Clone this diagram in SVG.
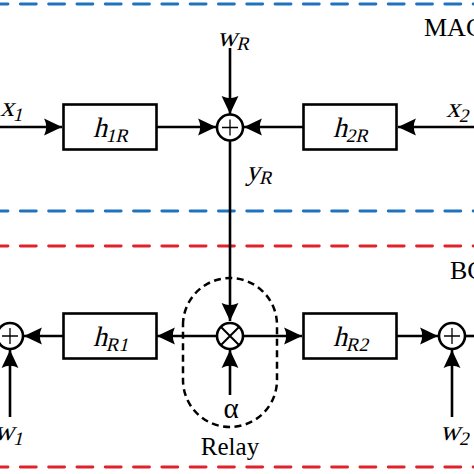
<svg xmlns="http://www.w3.org/2000/svg" width="474" height="474" viewBox="0 0 474 474">
<style>
.ln{stroke:#000;stroke-width:2.6;fill:none}
.box{stroke:#000;stroke-width:2.6;fill:#fff}
.circ{stroke:#000;stroke-width:2.6;fill:#fff}
.sym{stroke:#000;stroke-width:1.3;fill:none}
.blue{stroke:#1f72bd;stroke-width:2.8;stroke-dasharray:16 12.3;stroke-linecap:round;fill:none}
.red{stroke:#e0222a;stroke-width:2.8;stroke-dasharray:16 12.3;stroke-linecap:round;fill:none}
.relay{stroke:#000;stroke-width:2.5;stroke-dasharray:7 4.5;fill:none}
.m{font-family:"Liberation Serif",serif;font-size:28px;fill:#000}
.s{font-size:19px}
.t{font-family:"Liberation Serif",serif;font-size:25px;fill:#000}
</style>
<defs>
<marker id="arr" markerUnits="userSpaceOnUse" markerWidth="20" markerHeight="20" viewBox="-18 -9 19 18" refX="0" refY="0" orient="auto">
<path d="M0,0 L-17,-8 Q-13,0 -17,8 Z" fill="#000"/>
</marker>
</defs>
<g id="boundaries">
<line class="blue" x1="-14" y1="4" x2="480" y2="4" stroke-dashoffset="-6"/>
<line class="blue" x1="-14" y1="211" x2="480" y2="211" stroke-dashoffset="-6"/>
<line class="red" x1="-14" y1="246" x2="480" y2="246" stroke-dashoffset="-6"/>
<line class="red" x1="-14" y1="467" x2="480" y2="467" stroke-dashoffset="-6"/>
</g>
<g id="connectors">
<line class="ln" x1="0" y1="127" x2="62" y2="127" marker-end="url(#arr)"/>
<line class="ln" x1="156" y1="127" x2="216" y2="127" marker-end="url(#arr)"/>
<line class="ln" x1="474" y1="127" x2="398" y2="127" marker-end="url(#arr)"/>
<line class="ln" x1="303" y1="127" x2="244" y2="127" marker-end="url(#arr)"/>
<line class="ln" x1="230" y1="48" x2="230" y2="114" marker-end="url(#arr)"/>
<line class="ln" x1="230" y1="141" x2="230" y2="321" marker-end="url(#arr)"/>
<line class="ln" x1="216" y1="336" x2="157" y2="336" marker-end="url(#arr)"/>
<line class="ln" x1="63" y1="336" x2="24" y2="336" marker-end="url(#arr)"/>
<line class="ln" x1="244" y1="336" x2="302" y2="336" marker-end="url(#arr)"/>
<line class="ln" x1="397" y1="336" x2="438" y2="336" marker-end="url(#arr)"/>
<line class="ln" x1="466" y1="336" x2="474" y2="336"/>
<line class="ln" x1="10" y1="417" x2="10" y2="350" marker-end="url(#arr)"/>
<line class="ln" x1="452" y1="417" x2="452" y2="350" marker-end="url(#arr)"/>
<line class="ln" x1="230" y1="395" x2="230" y2="350" marker-end="url(#arr)"/>
</g>
<g id="h1R"><rect class="box" x="63.5" y="104.5" width="93" height="45"/>
<text class="m" transform="translate(93,137) skewX(-14)">h<tspan class="s" dy="5">1R</tspan></text></g>
<g id="h2R"><rect class="box" x="303.5" y="104.5" width="93" height="45"/>
<text class="m" transform="translate(333,137) skewX(-14)">h<tspan class="s" dy="5">2R</tspan></text></g>
<g id="sumR"><circle class="circ" cx="230" cy="127.5" r="13"/>
<path class="sym" d="M222,127.5 H238 M230,119.5 V135.5"/></g>
<g id="hR1"><rect class="box" x="63.5" y="313.5" width="93" height="45"/>
<text class="m" transform="translate(93,346) skewX(-14)">h<tspan class="s" dy="5">R1</tspan></text></g>
<g id="hR2"><rect class="box" x="303.5" y="313.5" width="93" height="45"/>
<text class="m" transform="translate(333,346) skewX(-14)">h<tspan class="s" dy="5">R2</tspan></text></g>
<g id="mult"><circle class="circ" cx="230" cy="336" r="13"/>
<path class="sym" d="M221,327 L239,345 M239,327 L221,345" style="stroke-width:2"/></g>
<g id="sum1"><circle class="circ" cx="10" cy="336" r="13"/>
<path class="sym" d="M2,336 H18 M10,328 V344"/></g>
<g id="sum2"><circle class="circ" cx="452" cy="336" r="13"/>
<path class="sym" d="M444,336 H460 M452,328 V344"/></g>
<g id="relay"><path class="relay" d="M183,325 A47,47 0 0 1 277,325 V380 A47,47 0 0 1 183,380 Z"/>
<text class="t" x="231" y="418" text-anchor="middle" style="font-size:29px">α</text>
<text class="t" x="230" y="455" text-anchor="middle">Relay</text></g>
<g id="labels">
<text class="m" transform="translate(217,46) skewX(-14)">w<tspan class="s" dy="4">R</tspan></text>
<text class="m" transform="translate(0,116) skewX(-14)">x<tspan class="s" dy="5">1</tspan></text>
<text class="m" transform="translate(446,117) skewX(-14)">x<tspan class="s" dy="5">2</tspan></text>
<text class="m" transform="translate(246,180) skewX(-14)">y<tspan class="s" dy="4">R</tspan></text>
<text class="m" transform="translate(-6,440) skewX(-14)">w<tspan class="s" dy="5">1</tspan></text>
<text class="m" transform="translate(440,440) skewX(-14)">w<tspan class="s" dy="5">2</tspan></text>
<text class="t" x="424" y="36" style="font-size:26px">MAC</text>
<text class="t" x="450" y="279" style="font-size:26px">BC</text>
</g>
</svg>
